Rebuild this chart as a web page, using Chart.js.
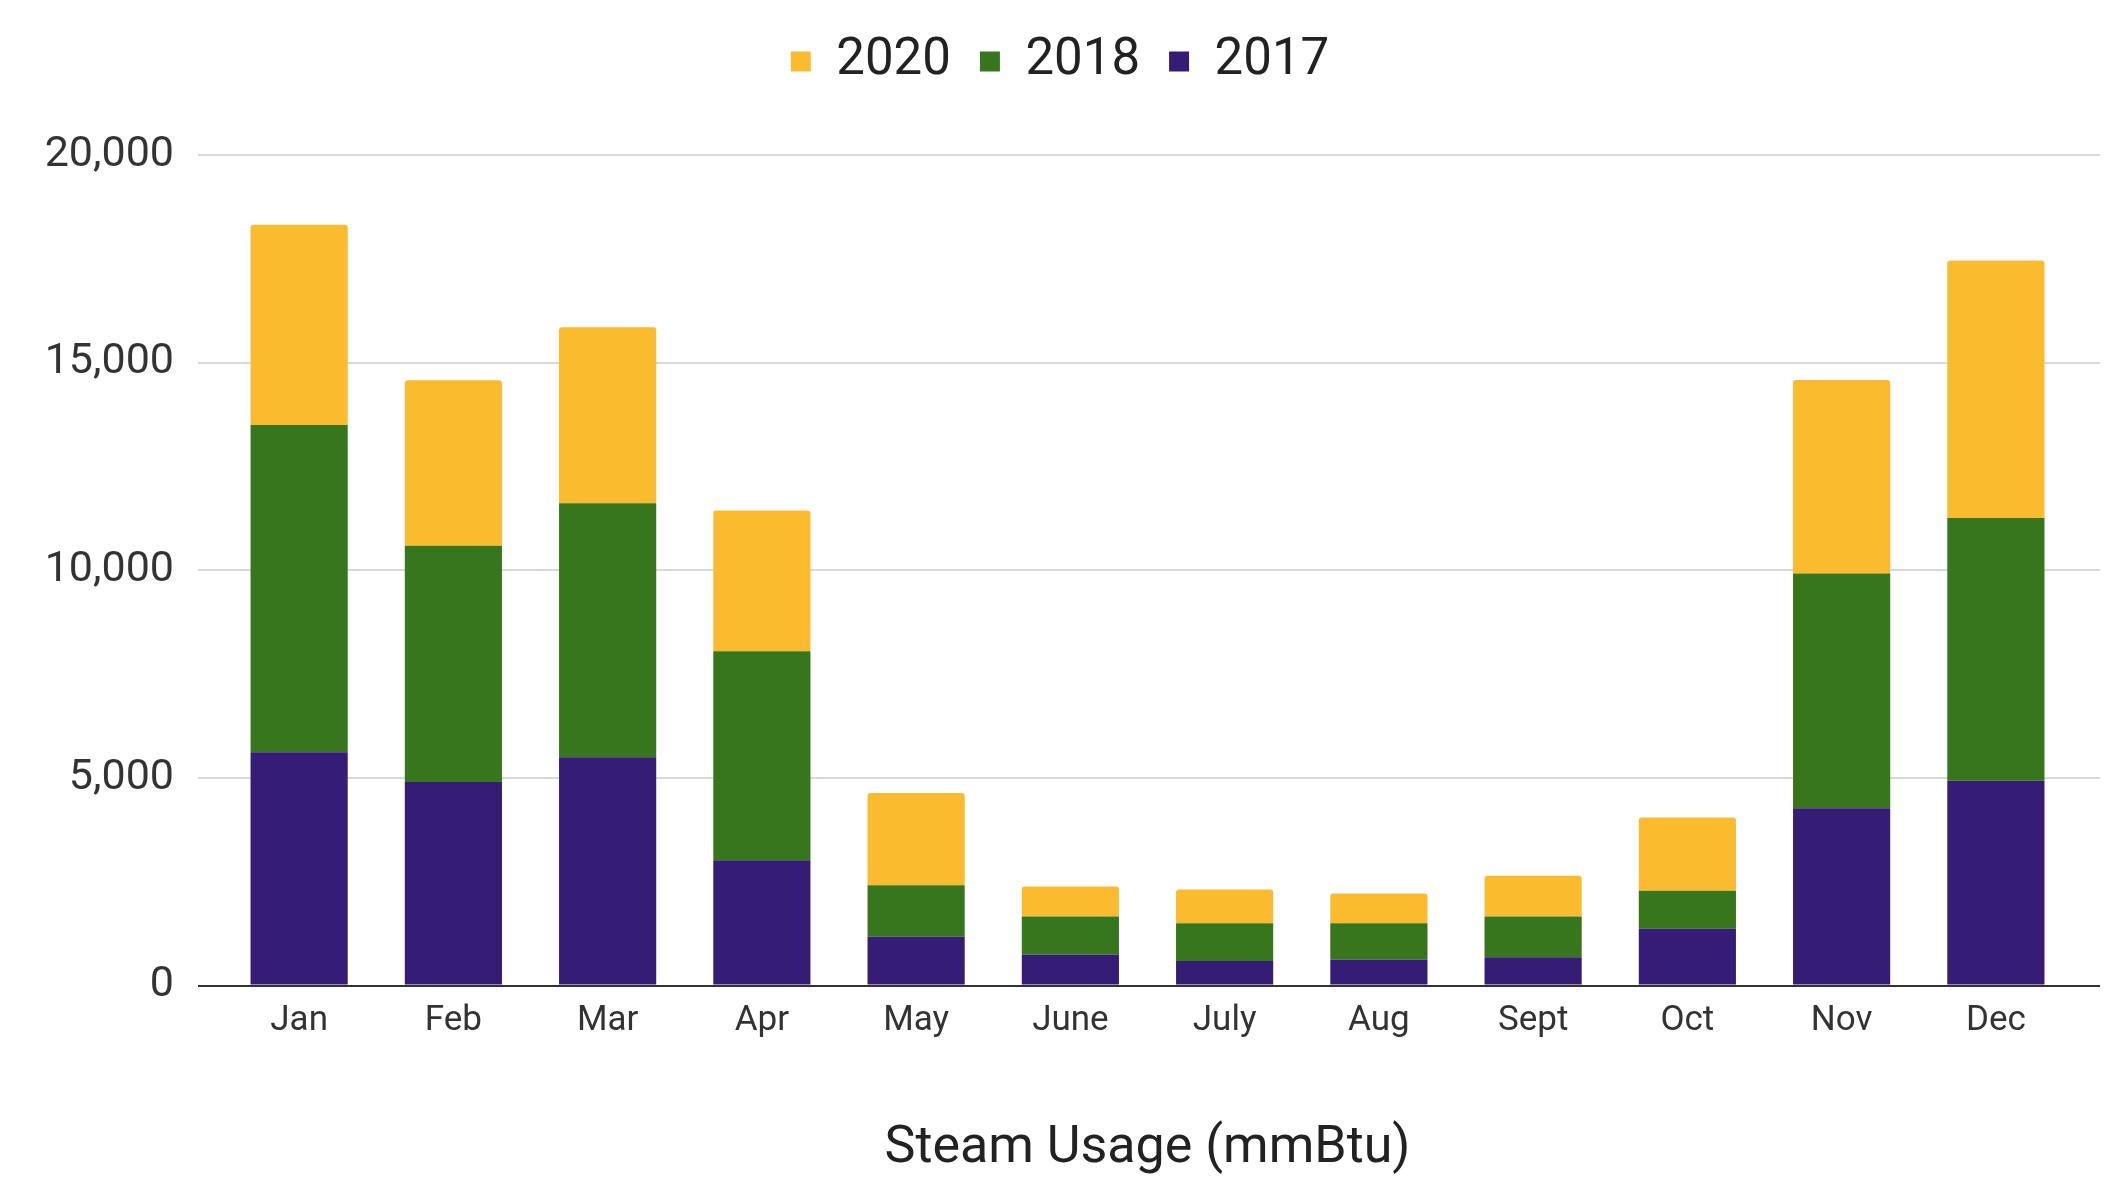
<!DOCTYPE html>
<html>
<head>
<meta charset="utf-8">
<script src="https://cdn.jsdelivr.net/npm/chart.js@4/dist/chart.umd.min.js"></script>
<style>
  body { margin: 0; background: #fff; }
</style>
</head>
<body>
<canvas id="steam" width="2126" height="1198"></canvas>
<script>
var months = ['Jan','Feb','Mar','Apr','May','June','July','Aug','Sept','Oct','Nov','Dec'];
var steam_2017 = [5620, 4900, 5500, 3020, 1175, 750, 590, 620, 685, 1370, 4270, 4930];
var steam_2018 = [7880, 5690, 6115, 5030, 1240, 915, 910, 880, 980, 915, 5650, 6330];
var steam_2020 = [4820, 3985, 4240, 3390, 2220, 720, 815, 720, 980, 1760, 4665, 6200];
var y_ticks = [0, 5000, 10000, 15000, 20000];

function gridColor(ctx) {
  return ctx.tick && ctx.tick.value === 0 ? '#333333' : '#d9d9d9';
}

var steam = new Chart(document.getElementById("steam"), {
    type:'bar',
    data: {
      labels:months,
      datasets:[{
              label:'2017',
              data:steam_2017,
              backgroundColor:'#351c75'
      },{
              label:'2018',
              data:steam_2018,
              backgroundColor:'#38761d'
      },{
              label:'2020',
              data:steam_2020,
              backgroundColor:'#fbbb2f',
              borderRadius:3
      }]
    },
    options:{
      responsive:false,
      animation:false,
      barPercentage:0.63,
      categoryPercentage:1,
      layout:{ padding:{ top:7, left:20, right:26, bottom:18 } },
      plugins:{
        legend:{
          position:'top',
          reverse:true,
          labels:{
            boxWidth:20,
            boxHeight:20,
            padding:29,
            color:'#222',
            font:{ family:'Roboto', size:51 }
          }
        },
        // empty title used only as a gap between legend and plot
        title:{
          display:true,
          text:'',
          weight:500,
          padding:0,
          font:{ size:58, lineHeight:1 }
        },
        tooltip:{ enabled:false }
      },
      scales:{
        x:{
          stacked:true,
          grid:{ display:false },
          border:{ display:false },
          ticks:{ color:'#333', padding:7, font:{ family:'Roboto', size:35 } },
          title:{
            display:true,
            text:'Steam Usage (mmBtu)',
            color:'#222',
            padding:{ top:68, bottom:0 },
            font:{ family:'Roboto', size:52 }
          }
        },
        y:{
          stacked:true,
          min:y_ticks[0],
          max:y_ticks[y_ticks.length-1],
          afterBuildTicks:function(s){ s.ticks = y_ticks.map(function(v){ return {value:v}; }); },
          afterFit:function(s){ s.width = 202; },
          border:{ display:false },
          grid:{ color:gridColor, lineWidth:2, tickLength:24 },
          ticks:{ color:'#333', padding:24, font:{ family:'Roboto', size:43 } }
        },
        y2:{
          position:'right',
          min:y_ticks[0],
          max:y_ticks[y_ticks.length-1],
          afterBuildTicks:function(s){ s.ticks = y_ticks.map(function(v){ return {value:v}; }); },
          border:{ display:false },
          grid:{ color:gridColor, lineWidth:2, tickLength:27, drawOnChartArea:false },
          ticks:{ display:false }
        }
      }
    }
});
</script>
</body>
</html>
